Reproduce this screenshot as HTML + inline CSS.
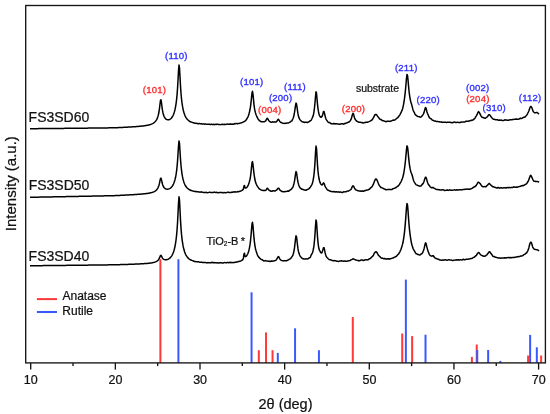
<!DOCTYPE html>
<html><head><meta charset="utf-8"><style>
html,body{margin:0;padding:0;background:#fff;overflow:hidden;}
svg{display:block;}
text{font-family:"Liberation Sans",Arial,sans-serif;}
.k{fill:#111;stroke:#111;stroke-width:0.22px;}
</style></head><body>
<svg width="550" height="414" viewBox="0 0 550 414">
<rect width="550" height="414" fill="#fff"/>
<line x1="160.38" y1="259.2" x2="160.38" y2="362.9" stroke="#ff3838" stroke-width="2"/>
<line x1="258.83" y1="350.2" x2="258.83" y2="362.9" stroke="#ff3838" stroke-width="2"/>
<line x1="266.03" y1="332.4" x2="266.03" y2="362.9" stroke="#ff3838" stroke-width="2"/>
<line x1="272.55" y1="350.2" x2="272.55" y2="362.9" stroke="#ff3838" stroke-width="2"/>
<line x1="352.79" y1="317.0" x2="352.79" y2="362.9" stroke="#ff3838" stroke-width="2"/>
<line x1="402.23" y1="333.5" x2="402.23" y2="362.9" stroke="#ff3838" stroke-width="2"/>
<line x1="412.13" y1="336.1" x2="412.13" y2="362.9" stroke="#ff3838" stroke-width="2"/>
<line x1="471.90" y1="356.9" x2="471.90" y2="362.9" stroke="#ff3838" stroke-width="2"/>
<line x1="476.72" y1="344.5" x2="476.72" y2="362.9" stroke="#ff3838" stroke-width="2"/>
<line x1="528.10" y1="355.5" x2="528.10" y2="362.9" stroke="#ff3838" stroke-width="2"/>
<line x1="541.14" y1="355.5" x2="541.14" y2="362.9" stroke="#ff3838" stroke-width="2"/>
<line x1="178.41" y1="259.2" x2="178.41" y2="362.9" stroke="#3a58ff" stroke-width="2"/>
<line x1="251.55" y1="292.3" x2="251.55" y2="362.9" stroke="#3a58ff" stroke-width="2"/>
<line x1="277.79" y1="352.9" x2="277.79" y2="362.9" stroke="#3a58ff" stroke-width="2"/>
<line x1="295.06" y1="328.3" x2="295.06" y2="362.9" stroke="#3a58ff" stroke-width="2"/>
<line x1="318.93" y1="350.2" x2="318.93" y2="362.9" stroke="#3a58ff" stroke-width="2"/>
<line x1="405.87" y1="279.6" x2="405.87" y2="362.9" stroke="#3a58ff" stroke-width="2"/>
<line x1="425.51" y1="334.7" x2="425.51" y2="362.9" stroke="#3a58ff" stroke-width="2"/>
<line x1="477.23" y1="350.0" x2="477.23" y2="362.9" stroke="#3a58ff" stroke-width="2"/>
<line x1="488.15" y1="350.0" x2="488.15" y2="362.9" stroke="#3a58ff" stroke-width="2"/>
<line x1="500.34" y1="360.9" x2="500.34" y2="362.9" stroke="#3a58ff" stroke-width="2"/>
<line x1="530.13" y1="334.9" x2="530.13" y2="362.9" stroke="#3a58ff" stroke-width="2"/>
<line x1="536.82" y1="347.3" x2="536.82" y2="362.9" stroke="#3a58ff" stroke-width="2"/>
<path d="M30.0,128.70 L30.5,128.70 L31.0,128.69 L31.5,128.69 L32.0,128.68 L32.5,128.68 L33.0,128.68 L33.5,128.67 L34.0,128.67 L34.5,128.66 L35.0,128.66 L35.5,128.65 L36.0,128.65 L36.5,128.64 L37.0,128.64 L37.5,128.63 L38.0,128.63 L38.5,128.62 L39.0,128.62 L39.5,128.61 L40.0,128.61 L40.5,128.60 L41.0,128.60 L41.5,128.59 L42.0,128.59 L42.5,128.59 L43.0,128.58 L43.5,128.58 L44.0,128.57 L44.5,128.57 L45.0,128.56 L45.5,128.56 L46.0,128.55 L46.5,128.55 L47.0,128.54 L47.5,128.54 L48.0,128.53 L48.5,128.53 L49.0,128.52 L49.5,128.52 L50.0,128.51 L50.5,128.51 L51.0,128.50 L51.5,128.50 L52.0,128.49 L52.5,128.49 L53.0,128.48 L53.5,128.48 L54.0,128.48 L54.5,128.47 L55.0,128.47 L55.5,128.46 L56.0,128.46 L56.5,128.45 L57.0,128.45 L57.5,128.44 L58.0,128.44 L58.5,128.43 L59.0,128.43 L59.5,128.42 L60.0,128.42 L60.5,128.41 L61.0,128.41 L61.5,128.40 L62.0,128.40 L62.5,128.39 L63.0,128.39 L63.5,128.38 L64.0,128.38 L64.5,128.37 L65.0,128.37 L65.5,128.36 L66.0,128.36 L66.5,128.35 L67.0,128.35 L67.5,128.34 L68.0,128.34 L68.5,128.33 L69.0,128.33 L69.5,128.32 L70.0,128.32 L70.5,128.31 L71.0,128.31 L71.5,128.30 L72.0,128.30 L72.5,128.29 L73.0,128.29 L73.5,128.28 L74.0,128.28 L74.5,128.27 L75.0,128.26 L75.5,128.26 L76.0,128.25 L76.5,128.25 L77.0,128.24 L77.5,128.24 L78.0,128.23 L78.5,128.23 L79.0,128.22 L79.5,128.22 L80.0,128.21 L80.5,128.21 L81.0,128.20 L81.5,128.20 L82.0,128.19 L82.5,128.19 L83.0,128.18 L83.5,128.17 L84.0,128.17 L84.5,128.16 L85.0,128.16 L85.5,128.15 L86.0,128.15 L86.5,128.14 L87.0,128.14 L87.5,128.13 L88.0,128.12 L88.5,128.12 L89.0,128.11 L89.5,128.11 L90.0,128.10 L90.5,128.10 L91.0,128.09 L91.5,128.09 L92.0,128.08 L92.5,128.07 L93.0,128.07 L93.5,128.06 L94.0,128.06 L94.5,128.05 L95.0,128.04 L95.5,128.04 L96.0,128.03 L96.5,128.03 L97.0,128.02 L97.5,128.01 L98.0,128.01 L98.5,128.00 L99.0,128.00 L99.5,127.99 L100.0,127.98 L100.5,127.98 L101.0,127.97 L101.5,127.96 L102.0,127.96 L102.5,127.95 L103.0,127.94 L103.5,127.94 L104.0,127.93 L104.5,127.92 L105.0,127.92 L105.5,127.91 L106.0,127.90 L106.5,127.90 L107.0,127.89 L107.5,127.88 L108.0,127.88 L108.5,127.87 L109.0,127.86 L109.5,127.86 L110.0,127.85 L110.5,127.84 L111.0,127.83 L111.5,127.83 L112.0,127.82 L112.5,127.81 L113.0,127.80 L113.5,127.79 L114.0,127.79 L114.5,127.78 L115.0,127.77 L115.5,127.76 L116.0,127.73 L116.5,127.71 L117.0,127.68 L117.5,127.66 L118.0,127.64 L118.5,127.61 L119.0,127.59 L119.5,127.56 L120.0,127.54 L120.5,127.51 L121.0,127.49 L121.5,127.46 L122.0,127.43 L122.5,127.41 L123.0,127.38 L123.5,127.36 L124.0,127.33 L124.5,127.30 L125.0,127.28 L125.5,127.25 L126.0,127.22 L126.5,127.19 L127.0,127.17 L127.5,127.14 L128.0,127.11 L128.5,127.08 L129.0,127.05 L129.5,127.02 L130.0,126.99 L130.5,126.96 L131.0,126.93 L131.5,126.90 L132.0,126.87 L132.5,126.84 L133.0,126.80 L133.5,126.77 L134.0,126.74 L134.5,126.70 L135.0,126.67 L135.5,126.63 L136.0,126.59 L136.5,126.55 L137.0,126.52 L137.5,126.48 L138.0,126.44 L138.5,126.39 L139.0,126.35 L139.5,126.31 L140.0,126.26 L140.5,126.21 L141.0,126.16 L141.5,126.11 L142.0,126.06 L142.5,126.00 L143.0,125.95 L143.5,125.89 L144.0,125.82 L144.5,125.76 L145.0,125.69 L145.5,125.61 L146.0,125.53 L146.5,125.45 L147.0,125.36 L147.5,125.26 L148.0,125.16 L148.5,125.05 L149.0,124.93 L149.5,124.80 L150.0,124.65 L150.5,124.50 L151.0,124.32 L151.5,124.13 L152.0,123.91 L152.5,123.67 L153.0,123.39 L153.5,123.08 L154.0,122.72 L154.5,122.31 L155.0,121.83 L155.5,121.27 L156.0,120.60 L156.5,119.81 L157.0,118.84 L157.5,117.66 L158.0,116.18 L158.5,114.27 L159.0,111.74 L159.5,108.34 L160.0,104.12 L160.5,100.35 L161.0,99.78 L161.5,102.89 L162.0,107.02 L162.5,110.46 L163.0,112.99 L163.5,114.83 L164.0,116.20 L164.5,117.24 L165.0,118.03 L165.5,118.64 L166.0,119.09 L166.5,119.41 L167.0,119.64 L167.5,119.77 L168.0,119.81 L168.5,119.78 L169.0,119.67 L169.5,119.49 L170.0,119.23 L170.5,118.89 L171.0,118.46 L171.5,117.93 L172.0,117.28 L172.5,116.50 L173.0,115.56 L173.5,114.44 L174.0,113.08 L174.5,111.45 L175.0,109.47 L175.5,107.05 L176.0,104.04 L176.5,100.25 L177.0,95.35 L177.5,88.85 L178.0,80.37 L178.5,70.86 L179.0,64.99 L179.5,67.95 L180.0,76.90 L180.5,86.04 L181.0,93.27 L181.5,98.72 L182.0,102.91 L182.5,106.20 L183.0,108.85 L183.5,111.02 L184.0,112.81 L184.5,114.31 L185.0,115.57 L185.5,116.64 L186.0,117.54 L186.5,118.30 L187.0,118.97 L187.5,119.54 L188.0,120.03 L188.5,120.45 L189.0,120.85 L189.5,121.23 L190.0,121.52 L190.5,121.72 L191.0,121.94 L191.5,122.16 L192.0,122.34 L192.5,122.46 L193.0,122.61 L193.5,122.78 L194.0,122.95 L194.5,123.15 L195.0,123.28 L195.5,123.31 L196.0,123.31 L196.5,123.33 L197.0,123.46 L197.5,123.57 L198.0,123.70 L198.5,123.70 L199.0,123.53 L199.5,123.55 L200.0,123.67 L200.5,123.72 L201.0,123.68 L201.5,123.75 L202.0,123.95 L202.5,124.05 L203.0,123.98 L203.5,123.87 L204.0,123.97 L204.5,124.16 L205.0,124.04 L205.5,123.93 L206.0,124.18 L206.5,124.36 L207.0,124.33 L207.5,124.28 L208.0,124.24 L208.5,124.19 L209.0,124.23 L209.5,124.29 L210.0,124.42 L210.5,124.44 L211.0,124.27 L211.5,124.26 L212.0,124.42 L212.5,124.57 L213.0,124.45 L213.5,124.26 L214.0,124.39 L214.5,124.67 L215.0,124.62 L215.5,124.24 L216.0,124.28 L216.5,124.44 L217.0,124.19 L217.5,124.15 L218.0,124.46 L218.5,124.53 L219.0,124.41 L219.5,124.43 L220.0,124.56 L220.5,124.63 L221.0,124.58 L221.5,124.47 L222.0,124.31 L222.5,124.28 L223.0,124.43 L223.5,124.57 L224.0,124.48 L224.5,124.34 L225.0,124.45 L225.5,124.49 L226.0,124.35 L226.5,124.25 L227.0,124.13 L227.5,124.04 L228.0,124.20 L228.5,124.25 L229.0,124.19 L229.5,124.17 L230.0,124.01 L230.5,123.96 L231.0,124.20 L231.5,124.28 L232.0,124.06 L232.5,124.11 L233.0,124.26 L233.5,124.23 L234.0,124.11 L234.5,123.70 L235.0,123.53 L235.5,123.70 L236.0,123.64 L236.5,123.50 L237.0,123.55 L237.5,123.73 L238.0,123.68 L238.5,123.46 L239.0,123.44 L239.5,123.32 L240.0,123.13 L240.5,122.99 L241.0,122.89 L241.5,122.81 L242.0,122.60 L242.5,122.38 L243.0,122.19 L243.5,121.87 L244.0,121.60 L244.5,121.44 L245.0,121.08 L245.5,120.59 L246.0,120.14 L246.5,119.44 L247.0,118.52 L247.5,117.67 L248.0,116.77 L248.5,115.47 L249.0,113.76 L249.5,111.84 L250.0,109.52 L250.5,106.55 L251.0,102.71 L251.5,97.76 L252.0,92.90 L252.5,91.29 L253.0,94.33 L253.5,99.57 L254.0,104.56 L254.5,108.40 L255.0,111.01 L255.5,112.90 L256.0,114.51 L256.5,115.80 L257.0,116.87 L257.5,117.89 L258.0,118.88 L258.5,119.66 L259.0,120.15 L259.5,120.69 L260.0,121.10 L260.5,121.30 L261.0,121.60 L261.5,121.70 L262.0,121.67 L262.5,121.78 L263.0,121.83 L263.5,121.79 L264.0,121.75 L264.5,121.70 L265.0,121.44 L265.5,120.94 L266.0,120.24 L266.5,119.31 L267.0,118.48 L267.5,118.34 L268.0,119.11 L268.5,120.17 L269.0,120.94 L269.5,121.33 L270.0,121.67 L270.5,122.02 L271.0,122.14 L271.5,122.19 L272.0,122.13 L272.5,121.84 L273.0,121.84 L273.5,122.01 L274.0,121.97 L274.5,121.87 L275.0,121.90 L275.5,122.07 L276.0,122.06 L276.5,121.65 L277.0,120.98 L277.5,120.25 L278.0,119.51 L278.5,119.32 L279.0,120.09 L279.5,120.95 L280.0,121.67 L280.5,122.33 L281.0,122.44 L281.5,122.46 L282.0,122.83 L282.5,123.15 L283.0,123.24 L283.5,123.39 L284.0,123.51 L284.5,123.36 L285.0,123.15 L285.5,123.28 L286.0,123.41 L286.5,123.11 L287.0,122.93 L287.5,123.03 L288.0,123.05 L288.5,122.92 L289.0,122.63 L289.5,122.32 L290.0,122.18 L290.5,121.78 L291.0,121.26 L291.5,121.13 L292.0,120.63 L292.5,119.51 L293.0,118.51 L293.5,117.24 L294.0,115.09 L294.5,112.40 L295.0,109.23 L295.5,105.60 L296.0,103.09 L296.5,103.86 L297.0,107.09 L297.5,110.67 L298.0,113.89 L298.5,116.33 L299.0,117.88 L299.5,118.88 L300.0,119.67 L300.5,120.28 L301.0,120.72 L301.5,121.20 L302.0,121.63 L302.5,121.97 L303.0,122.05 L303.5,122.02 L304.0,122.29 L304.5,122.45 L305.0,122.28 L305.5,122.19 L306.0,122.14 L306.5,122.16 L307.0,122.43 L307.5,122.52 L308.0,122.29 L308.5,121.96 L309.0,121.67 L309.5,121.33 L310.0,120.98 L310.5,120.72 L311.0,120.32 L311.5,119.53 L312.0,118.50 L312.5,117.39 L313.0,116.14 L313.5,114.42 L314.0,111.58 L314.5,107.64 L315.0,102.73 L315.5,96.56 L316.0,91.77 L316.5,93.08 L317.0,98.78 L317.5,104.35 L318.0,108.59 L318.5,111.73 L319.0,113.99 L319.5,115.54 L320.0,116.48 L320.5,117.00 L321.0,117.24 L321.5,117.00 L322.0,116.41 L322.5,115.38 L323.0,113.40 L323.5,111.40 L324.0,111.43 L324.5,113.33 L325.0,115.49 L325.5,117.55 L326.0,119.03 L326.5,119.85 L327.0,120.56 L327.5,121.25 L328.0,121.89 L328.5,122.43 L329.0,122.58 L329.5,122.50 L330.0,122.78 L330.5,123.32 L331.0,123.64 L331.5,123.62 L332.0,123.71 L332.5,123.88 L333.0,123.76 L333.5,123.56 L334.0,123.49 L334.5,123.78 L335.0,124.02 L335.5,123.82 L336.0,123.68 L336.5,123.71 L337.0,123.90 L337.5,124.06 L338.0,124.02 L338.5,124.08 L339.0,124.13 L339.5,124.17 L340.0,124.26 L340.5,124.11 L341.0,123.83 L341.5,123.65 L342.0,123.66 L342.5,123.74 L343.0,123.91 L343.5,124.18 L344.0,124.06 L344.5,123.60 L345.0,123.50 L345.5,123.42 L346.0,123.03 L346.5,122.95 L347.0,122.97 L347.5,122.63 L348.0,122.34 L348.5,122.20 L349.0,121.98 L349.5,121.57 L350.0,121.05 L350.5,120.35 L351.0,119.41 L351.5,118.12 L352.0,116.24 L352.5,114.29 L353.0,113.30 L353.5,113.98 L354.0,115.84 L354.5,117.73 L355.0,118.97 L355.5,119.71 L356.0,120.33 L356.5,120.91 L357.0,121.36 L357.5,121.58 L358.0,121.75 L358.5,122.13 L359.0,122.34 L359.5,122.23 L360.0,122.23 L360.5,122.34 L361.0,122.52 L361.5,122.48 L362.0,122.39 L362.5,122.75 L363.0,123.04 L363.5,122.97 L364.0,122.87 L364.5,122.57 L365.0,122.31 L365.5,122.41 L366.0,122.32 L366.5,122.17 L367.0,122.29 L367.5,122.20 L368.0,122.00 L368.5,121.86 L369.0,121.64 L369.5,121.40 L370.0,121.14 L370.5,120.84 L371.0,120.56 L371.5,120.34 L372.0,119.97 L372.5,119.33 L373.0,118.44 L373.5,117.64 L374.0,116.72 L374.5,115.47 L375.0,114.74 L375.5,114.53 L376.0,114.47 L376.5,114.71 L377.0,115.30 L377.5,116.09 L378.0,116.79 L378.5,117.36 L379.0,118.03 L379.5,118.74 L380.0,119.28 L380.5,119.43 L381.0,119.42 L381.5,119.80 L382.0,120.41 L382.5,120.75 L383.0,120.81 L383.5,120.71 L384.0,120.89 L384.5,121.27 L385.0,121.39 L385.5,121.60 L386.0,121.72 L386.5,121.47 L387.0,121.30 L387.5,121.23 L388.0,121.17 L388.5,121.23 L389.0,121.29 L389.5,121.32 L390.0,121.41 L390.5,121.32 L391.0,121.07 L391.5,120.87 L392.0,120.57 L392.5,120.30 L393.0,120.15 L393.5,120.09 L394.0,120.16 L394.5,120.10 L395.0,119.81 L395.5,119.39 L396.0,118.97 L396.5,118.49 L397.0,118.08 L397.5,117.84 L398.0,117.35 L398.5,116.72 L399.0,116.09 L399.5,115.30 L400.0,114.54 L400.5,113.71 L401.0,112.63 L401.5,111.53 L402.0,110.40 L402.5,108.96 L403.0,107.08 L403.5,104.64 L404.0,101.75 L404.5,98.45 L405.0,94.45 L405.5,89.67 L406.0,83.96 L406.5,78.05 L407.0,74.42 L407.5,75.31 L408.0,79.82 L408.5,85.45 L409.0,90.76 L409.5,94.99 L410.0,98.07 L410.5,100.49 L411.0,102.44 L411.5,104.06 L412.0,105.84 L412.5,107.82 L413.0,109.64 L413.5,111.10 L414.0,112.00 L414.5,112.93 L415.0,114.15 L415.5,114.94 L416.0,115.23 L416.5,115.59 L417.0,116.01 L417.5,116.29 L418.0,116.47 L418.5,116.62 L419.0,116.74 L419.5,116.78 L420.0,117.02 L420.5,117.19 L421.0,116.93 L421.5,116.56 L422.0,116.00 L422.5,115.25 L423.0,114.57 L423.5,113.80 L424.0,112.59 L424.5,110.80 L425.0,108.70 L425.5,107.44 L426.0,107.99 L426.5,109.94 L427.0,111.99 L427.5,113.44 L428.0,114.58 L428.5,115.81 L429.0,117.01 L429.5,117.71 L430.0,118.16 L430.5,118.52 L431.0,118.67 L431.5,119.16 L432.0,119.89 L432.5,120.26 L433.0,120.33 L433.5,120.46 L434.0,120.89 L434.5,121.13 L435.0,121.01 L435.5,121.07 L436.0,121.27 L436.5,121.43 L437.0,121.52 L437.5,121.50 L438.0,121.52 L438.5,121.62 L439.0,121.69 L439.5,121.78 L440.0,121.93 L440.5,122.00 L441.0,121.93 L441.5,122.02 L442.0,122.19 L442.5,122.13 L443.0,122.15 L443.5,122.30 L444.0,122.30 L444.5,122.27 L445.0,122.18 L445.5,122.12 L446.0,122.35 L446.5,122.57 L447.0,122.38 L447.5,122.15 L448.0,122.19 L448.5,122.21 L449.0,122.26 L449.5,122.28 L450.0,122.30 L450.5,122.48 L451.0,122.53 L451.5,122.55 L452.0,122.65 L452.5,122.73 L453.0,122.56 L453.5,122.27 L454.0,122.13 L454.5,122.02 L455.0,122.18 L455.5,122.48 L456.0,122.60 L456.5,122.52 L457.0,122.33 L457.5,122.27 L458.0,122.35 L458.5,122.51 L459.0,122.47 L459.5,122.48 L460.0,122.64 L460.5,122.32 L461.0,122.02 L461.5,122.11 L462.0,122.15 L462.5,122.00 L463.0,121.92 L463.5,122.00 L464.0,122.01 L464.5,122.06 L465.0,121.89 L465.5,121.44 L466.0,121.22 L466.5,121.26 L467.0,121.36 L467.5,121.36 L468.0,121.20 L468.5,121.05 L469.0,121.12 L469.5,121.04 L470.0,120.66 L470.5,120.51 L471.0,120.47 L471.5,120.26 L472.0,120.17 L472.5,120.18 L473.0,119.96 L473.5,119.42 L474.0,119.00 L474.5,118.74 L475.0,118.08 L475.5,117.17 L476.0,116.32 L476.5,115.55 L477.0,114.68 L477.5,113.43 L478.0,112.17 L478.5,111.65 L479.0,112.07 L479.5,112.84 L480.0,113.85 L480.5,114.99 L481.0,115.87 L481.5,116.70 L482.0,117.17 L482.5,117.26 L483.0,117.47 L483.5,117.69 L484.0,118.00 L484.5,118.13 L485.0,118.08 L485.5,118.13 L486.0,117.80 L486.5,117.31 L487.0,117.08 L487.5,116.59 L488.0,115.79 L488.5,115.05 L489.0,114.65 L489.5,114.81 L490.0,115.26 L490.5,115.94 L491.0,116.72 L491.5,117.24 L492.0,117.92 L492.5,118.62 L493.0,118.96 L493.5,119.23 L494.0,119.33 L494.5,119.34 L495.0,119.52 L495.5,119.70 L496.0,119.73 L496.5,119.72 L497.0,119.71 L497.5,119.78 L498.0,120.03 L498.5,120.26 L499.0,120.17 L499.5,120.03 L500.0,120.18 L500.5,120.16 L501.0,120.00 L501.5,120.18 L502.0,120.38 L502.5,120.40 L503.0,120.42 L503.5,120.45 L504.0,120.37 L504.5,120.06 L505.0,119.77 L505.5,119.87 L506.0,120.06 L506.5,120.08 L507.0,120.17 L507.5,120.19 L508.0,120.19 L508.5,120.17 L509.0,119.99 L509.5,119.92 L510.0,119.79 L510.5,119.71 L511.0,119.76 L511.5,119.75 L512.0,119.69 L512.5,119.54 L513.0,119.45 L513.5,119.41 L514.0,119.37 L514.5,119.28 L515.0,119.24 L515.5,119.25 L516.0,119.05 L516.5,119.02 L517.0,119.26 L517.5,119.31 L518.0,119.17 L518.5,119.15 L519.0,119.07 L519.5,118.62 L520.0,118.31 L520.5,118.33 L521.0,118.42 L521.5,118.40 L522.0,118.31 L522.5,118.09 L523.0,117.67 L523.5,117.27 L524.0,117.20 L524.5,117.31 L525.0,117.02 L525.5,116.44 L526.0,115.87 L526.5,115.31 L527.0,114.70 L527.5,113.79 L528.0,112.74 L528.5,111.77 L529.0,110.56 L529.5,109.02 L530.0,107.54 L530.5,106.52 L531.0,106.43 L531.5,107.11 L532.0,108.11 L532.5,109.62 L533.0,111.02 L533.5,111.67 L534.0,112.22 L534.5,112.66 L535.0,112.80 L535.5,112.83 L536.0,112.60 L536.5,112.41 L537.0,112.49 L537.5,112.78 L538.0,113.26 L538.5,113.77 L539.0,114.24" fill="none" stroke="#000" stroke-width="1.5" stroke-linejoin="round"/>
<path d="M30.0,197.28 L30.5,197.28 L31.0,197.28 L31.5,197.27 L32.0,197.26 L32.5,197.25 L33.0,197.24 L33.5,197.23 L34.0,197.22 L34.5,197.21 L35.0,197.20 L35.5,197.19 L36.0,197.19 L36.5,197.18 L37.0,197.17 L37.5,197.16 L38.0,197.15 L38.5,197.14 L39.0,197.13 L39.5,197.12 L40.0,197.11 L40.5,197.10 L41.0,197.09 L41.5,197.08 L42.0,197.07 L42.5,197.06 L43.0,197.06 L43.5,197.05 L44.0,197.04 L44.5,197.03 L45.0,197.02 L45.5,197.01 L46.0,197.00 L46.5,196.99 L47.0,196.98 L47.5,196.97 L48.0,196.96 L48.5,196.95 L49.0,196.94 L49.5,196.93 L50.0,196.92 L50.5,196.92 L51.0,196.91 L51.5,196.90 L52.0,196.89 L52.5,196.88 L53.0,196.87 L53.5,196.86 L54.0,196.85 L54.5,196.84 L55.0,196.83 L55.5,196.82 L56.0,196.81 L56.5,196.80 L57.0,196.79 L57.5,196.78 L58.0,196.77 L58.5,196.77 L59.0,196.76 L59.5,196.75 L60.0,196.74 L60.5,196.73 L61.0,196.72 L61.5,196.71 L62.0,196.70 L62.5,196.69 L63.0,196.68 L63.5,196.67 L64.0,196.66 L64.5,196.65 L65.0,196.64 L65.5,196.63 L66.0,196.62 L66.5,196.61 L67.0,196.60 L67.5,196.59 L68.0,196.59 L68.5,196.58 L69.0,196.57 L69.5,196.56 L70.0,196.55 L70.5,196.54 L71.0,196.53 L71.5,196.52 L72.0,196.51 L72.5,196.50 L73.0,196.49 L73.5,196.48 L74.0,196.47 L74.5,196.46 L75.0,196.45 L75.5,196.44 L76.0,196.43 L76.5,196.42 L77.0,196.41 L77.5,196.40 L78.0,196.39 L78.5,196.38 L79.0,196.37 L79.5,196.36 L80.0,196.35 L80.5,196.34 L81.0,196.33 L81.5,196.32 L82.0,196.32 L82.5,196.31 L83.0,196.30 L83.5,196.29 L84.0,196.28 L84.5,196.27 L85.0,196.26 L85.5,196.25 L86.0,196.24 L86.5,196.23 L87.0,196.22 L87.5,196.21 L88.0,196.20 L88.5,196.19 L89.0,196.18 L89.5,196.17 L90.0,196.16 L90.5,196.15 L91.0,196.14 L91.5,196.13 L92.0,196.12 L92.5,196.11 L93.0,196.10 L93.5,196.09 L94.0,196.08 L94.5,196.07 L95.0,196.06 L95.5,196.05 L96.0,196.04 L96.5,196.03 L97.0,196.01 L97.5,196.00 L98.0,195.99 L98.5,195.98 L99.0,195.97 L99.5,195.96 L100.0,195.95 L100.5,195.94 L101.0,195.93 L101.5,195.92 L102.0,195.91 L102.5,195.90 L103.0,195.89 L103.5,195.88 L104.0,195.87 L104.5,195.86 L105.0,195.85 L105.5,195.84 L106.0,195.83 L106.5,195.81 L107.0,195.80 L107.5,195.79 L108.0,195.78 L108.5,195.77 L109.0,195.76 L109.5,195.75 L110.0,195.74 L110.5,195.73 L111.0,195.71 L111.5,195.70 L112.0,195.69 L112.5,195.68 L113.0,195.67 L113.5,195.66 L114.0,195.65 L114.5,195.63 L115.0,195.62 L115.5,195.61 L116.0,195.58 L116.5,195.56 L117.0,195.53 L117.5,195.51 L118.0,195.48 L118.5,195.46 L119.0,195.43 L119.5,195.40 L120.0,195.38 L120.5,195.35 L121.0,195.33 L121.5,195.30 L122.0,195.28 L122.5,195.25 L123.0,195.22 L123.5,195.20 L124.0,195.17 L124.5,195.14 L125.0,195.12 L125.5,195.09 L126.0,195.06 L126.5,195.03 L127.0,195.01 L127.5,194.98 L128.0,194.95 L128.5,194.92 L129.0,194.89 L129.5,194.87 L130.0,194.84 L130.5,194.81 L131.0,194.78 L131.5,194.75 L132.0,194.72 L132.5,194.69 L133.0,194.66 L133.5,194.63 L134.0,194.59 L134.5,194.56 L135.0,194.53 L135.5,194.50 L136.0,194.46 L136.5,194.43 L137.0,194.39 L137.5,194.36 L138.0,194.32 L138.5,194.29 L139.0,194.25 L139.5,194.21 L140.0,194.17 L140.5,194.13 L141.0,194.09 L141.5,194.05 L142.0,194.00 L142.5,193.96 L143.0,193.91 L143.5,193.86 L144.0,193.81 L144.5,193.76 L145.0,193.71 L145.5,193.65 L146.0,193.59 L146.5,193.53 L147.0,193.46 L147.5,193.39 L148.0,193.32 L148.5,193.24 L149.0,193.15 L149.5,193.06 L150.0,192.96 L150.5,192.85 L151.0,192.74 L151.5,192.61 L152.0,192.46 L152.5,192.31 L153.0,192.13 L153.5,191.93 L154.0,191.71 L154.5,191.45 L155.0,191.15 L155.5,190.80 L156.0,190.40 L156.5,189.92 L157.0,189.34 L157.5,188.63 L158.0,187.75 L158.5,186.63 L159.0,185.15 L159.5,183.16 L160.0,180.70 L160.5,178.50 L161.0,178.15 L161.5,179.92 L162.0,182.29 L162.5,184.25 L163.0,185.69 L163.5,186.72 L164.0,187.48 L164.5,188.04 L165.0,188.46 L165.5,188.76 L166.0,188.98 L166.5,189.11 L167.0,189.18 L167.5,189.18 L168.0,189.13 L168.5,189.03 L169.0,188.87 L169.5,188.65 L170.0,188.38 L170.5,188.04 L171.0,187.63 L171.5,187.13 L172.0,186.54 L172.5,185.84 L173.0,185.00 L173.5,184.00 L174.0,182.81 L174.5,181.37 L175.0,179.63 L175.5,177.52 L176.0,174.89 L176.5,171.59 L177.0,167.31 L177.5,161.66 L178.0,154.27 L178.5,146.00 L179.0,140.90 L179.5,143.46 L180.0,151.24 L180.5,159.19 L181.0,165.47 L181.5,170.21 L182.0,173.84 L182.5,176.70 L183.0,179.00 L183.5,180.89 L184.0,182.45 L184.5,183.75 L185.0,184.85 L185.5,185.77 L186.0,186.56 L186.5,187.24 L187.0,187.80 L187.5,188.28 L188.0,188.69 L188.5,189.07 L189.0,189.48 L189.5,189.81 L190.0,189.99 L190.5,190.22 L191.0,190.44 L191.5,190.59 L192.0,190.74 L192.5,190.91 L193.0,191.08 L193.5,191.18 L194.0,191.29 L194.5,191.41 L195.0,191.39 L195.5,191.36 L196.0,191.52 L196.5,191.71 L197.0,191.77 L197.5,191.75 L198.0,191.75 L198.5,191.87 L199.0,192.00 L199.5,192.10 L200.0,192.19 L200.5,192.05 L201.0,191.83 L201.5,191.91 L202.0,192.18 L202.5,192.30 L203.0,192.36 L203.5,192.47 L204.0,192.60 L204.5,192.55 L205.0,192.35 L205.5,192.41 L206.0,192.43 L206.5,192.36 L207.0,192.59 L207.5,192.75 L208.0,192.63 L208.5,192.49 L209.0,192.38 L209.5,192.30 L210.0,192.34 L210.5,192.39 L211.0,192.41 L211.5,192.44 L212.0,192.59 L212.5,192.60 L213.0,192.47 L213.5,192.41 L214.0,192.13 L214.5,192.05 L215.0,192.36 L215.5,192.57 L216.0,192.49 L216.5,192.33 L217.0,192.43 L217.5,192.66 L218.0,192.74 L218.5,192.67 L219.0,192.55 L219.5,192.43 L220.0,192.42 L220.5,192.52 L221.0,192.55 L221.5,192.39 L222.0,192.39 L222.5,192.70 L223.0,192.88 L223.5,192.75 L224.0,192.57 L224.5,192.57 L225.0,192.69 L225.5,192.80 L226.0,192.82 L226.5,192.59 L227.0,192.31 L227.5,192.23 L228.0,192.16 L228.5,192.27 L229.0,192.58 L229.5,192.53 L230.0,192.39 L230.5,192.56 L231.0,192.44 L231.5,192.22 L232.0,192.28 L232.5,192.23 L233.0,191.97 L233.5,191.86 L234.0,192.05 L234.5,191.99 L235.0,191.77 L235.5,191.98 L236.0,192.09 L236.5,191.92 L237.0,191.84 L237.5,191.72 L238.0,191.56 L238.5,191.64 L239.0,191.63 L239.5,191.36 L240.0,191.28 L240.5,191.20 L241.0,190.92 L241.5,190.63 L242.0,190.30 L242.5,190.04 L243.0,189.70 L243.5,188.61 L244.0,185.92 L244.5,185.55 L245.0,187.72 L245.5,188.10 L246.0,187.97 L246.5,187.65 L247.0,187.19 L247.5,186.46 L248.0,185.68 L248.5,184.52 L249.0,182.97 L249.5,181.28 L250.0,179.24 L250.5,176.52 L251.0,172.47 L251.5,167.40 L252.0,162.87 L252.5,161.62 L253.0,164.66 L253.5,169.40 L254.0,173.75 L254.5,177.24 L255.0,180.05 L255.5,182.08 L256.0,183.38 L256.5,184.55 L257.0,185.57 L257.5,186.33 L258.0,187.06 L258.5,187.85 L259.0,188.56 L259.5,188.94 L260.0,189.27 L260.5,189.69 L261.0,189.94 L261.5,190.09 L262.0,190.22 L262.5,190.32 L263.0,190.53 L263.5,190.60 L264.0,190.40 L264.5,190.36 L265.0,190.48 L265.5,190.46 L266.0,190.13 L266.5,189.32 L267.0,188.52 L267.5,188.31 L268.0,188.92 L268.5,189.68 L269.0,190.10 L269.5,190.48 L270.0,190.81 L270.5,191.00 L271.0,191.18 L271.5,191.28 L272.0,191.21 L272.5,191.02 L273.0,190.82 L273.5,190.73 L274.0,190.79 L274.5,190.94 L275.0,191.00 L275.5,190.73 L276.0,190.42 L276.5,190.17 L277.0,189.57 L277.5,188.82 L278.0,188.36 L278.5,188.23 L279.0,188.51 L279.5,189.31 L280.0,190.17 L280.5,190.58 L281.0,190.80 L281.5,191.17 L282.0,191.51 L282.5,191.58 L283.0,191.70 L283.5,191.76 L284.0,191.68 L284.5,191.66 L285.0,191.56 L285.5,191.40 L286.0,191.41 L286.5,191.50 L287.0,191.36 L287.5,191.09 L288.0,191.07 L288.5,191.23 L289.0,191.03 L289.5,190.54 L290.0,190.05 L290.5,189.69 L291.0,189.49 L291.5,189.00 L292.0,188.33 L292.5,187.79 L293.0,186.81 L293.5,185.25 L294.0,183.44 L294.5,181.13 L295.0,177.98 L295.5,174.14 L296.0,171.53 L296.5,172.39 L297.0,175.74 L297.5,179.40 L298.0,182.24 L298.5,184.16 L299.0,185.68 L299.5,186.91 L300.0,187.71 L300.5,188.19 L301.0,188.60 L301.5,189.00 L302.0,189.25 L302.5,189.35 L303.0,189.48 L303.5,189.74 L304.0,189.85 L304.5,189.92 L305.0,190.07 L305.5,190.25 L306.0,190.33 L306.5,189.98 L307.0,189.59 L307.5,189.47 L308.0,189.32 L308.5,189.05 L309.0,188.62 L309.5,188.13 L310.0,187.64 L310.5,186.92 L311.0,186.04 L311.5,185.22 L312.0,184.29 L312.5,182.88 L313.0,180.75 L313.5,178.04 L314.0,174.51 L314.5,169.43 L315.0,162.11 L315.5,152.80 L316.0,146.04 L316.5,148.31 L317.0,156.87 L317.5,165.17 L318.0,171.25 L318.5,175.46 L319.0,178.52 L319.5,180.76 L320.0,182.37 L320.5,183.53 L321.0,184.31 L321.5,184.81 L322.0,184.95 L322.5,184.55 L323.0,183.58 L323.5,182.77 L324.0,183.20 L324.5,184.60 L325.0,186.02 L325.5,187.17 L326.0,187.89 L326.5,188.53 L327.0,189.39 L327.5,189.98 L328.0,190.09 L328.5,190.40 L329.0,190.75 L329.5,190.80 L330.0,191.07 L330.5,191.33 L331.0,191.36 L331.5,191.66 L332.0,191.87 L332.5,191.63 L333.0,191.55 L333.5,191.65 L334.0,191.59 L334.5,191.73 L335.0,192.05 L335.5,191.96 L336.0,191.67 L336.5,191.78 L337.0,192.05 L337.5,192.01 L338.0,191.85 L338.5,191.95 L339.0,192.12 L339.5,192.17 L340.0,192.01 L340.5,191.95 L341.0,192.20 L341.5,192.34 L342.0,192.52 L342.5,192.55 L343.0,192.07 L343.5,191.81 L344.0,191.93 L344.5,191.87 L345.0,191.65 L345.5,191.69 L346.0,191.82 L346.5,191.55 L347.0,191.22 L347.5,191.11 L348.0,191.03 L348.5,190.96 L349.0,190.71 L349.5,190.43 L350.0,190.19 L350.5,189.78 L351.0,189.33 L351.5,188.58 L352.0,187.33 L352.5,186.16 L353.0,185.75 L353.5,186.21 L354.0,187.13 L354.5,188.09 L355.0,188.92 L355.5,189.57 L356.0,189.98 L356.5,190.14 L357.0,190.35 L357.5,190.57 L358.0,190.70 L358.5,190.90 L359.0,191.05 L359.5,191.00 L360.0,190.89 L360.5,191.03 L361.0,191.33 L361.5,191.23 L362.0,190.86 L362.5,190.92 L363.0,191.28 L363.5,191.27 L364.0,191.04 L364.5,190.81 L365.0,190.51 L365.5,190.49 L366.0,190.39 L366.5,190.00 L367.0,189.93 L367.5,190.09 L368.0,189.93 L368.5,189.54 L369.0,189.38 L369.5,189.19 L370.0,188.57 L370.5,187.97 L371.0,187.59 L371.5,187.20 L372.0,186.68 L372.5,185.78 L373.0,184.85 L373.5,183.93 L374.0,182.56 L374.5,181.18 L375.0,180.06 L375.5,179.19 L376.0,178.90 L376.5,179.32 L377.0,180.14 L377.5,181.22 L378.0,182.56 L378.5,183.80 L379.0,184.82 L379.5,185.64 L380.0,186.38 L380.5,187.20 L381.0,187.57 L381.5,187.58 L382.0,187.91 L382.5,188.10 L383.0,188.22 L383.5,188.65 L384.0,188.90 L384.5,188.98 L385.0,189.20 L385.5,189.54 L386.0,189.70 L386.5,189.65 L387.0,189.62 L387.5,189.57 L388.0,189.50 L388.5,189.44 L389.0,189.41 L389.5,189.41 L390.0,189.51 L390.5,189.56 L391.0,189.51 L391.5,189.64 L392.0,189.47 L392.5,188.90 L393.0,188.69 L393.5,188.62 L394.0,188.35 L394.5,188.14 L395.0,188.04 L395.5,187.83 L396.0,187.50 L396.5,187.20 L397.0,186.70 L397.5,186.28 L398.0,186.12 L398.5,185.62 L399.0,184.95 L399.5,184.38 L400.0,183.48 L400.5,182.58 L401.0,181.78 L401.5,180.63 L402.0,179.40 L402.5,178.17 L403.0,176.61 L403.5,174.52 L404.0,171.77 L404.5,168.50 L405.0,164.77 L405.5,160.34 L406.0,154.93 L406.5,149.27 L407.0,145.88 L407.5,146.76 L408.0,150.92 L408.5,156.18 L409.0,161.12 L409.5,165.12 L410.0,168.13 L410.5,170.46 L411.0,172.25 L411.5,173.54 L412.0,174.75 L412.5,176.48 L413.0,178.43 L413.5,180.14 L414.0,181.52 L414.5,182.36 L415.0,183.09 L415.5,183.95 L416.0,184.51 L416.5,184.84 L417.0,185.11 L417.5,185.23 L418.0,185.53 L418.5,185.83 L419.0,185.87 L419.5,186.04 L420.0,186.15 L420.5,186.05 L421.0,185.87 L421.5,185.36 L422.0,184.63 L422.5,184.11 L423.0,183.66 L423.5,182.82 L424.0,181.40 L424.5,179.73 L425.0,178.21 L425.5,177.15 L426.0,177.16 L426.5,178.65 L427.0,180.61 L427.5,182.17 L428.0,183.57 L428.5,184.55 L429.0,185.19 L429.5,185.85 L430.0,186.43 L430.5,186.96 L431.0,187.45 L431.5,187.73 L432.0,187.69 L432.5,187.55 L433.0,187.50 L433.5,187.81 L434.0,188.17 L434.5,188.36 L435.0,188.71 L435.5,188.99 L436.0,189.18 L436.5,189.44 L437.0,189.61 L437.5,189.61 L438.0,189.60 L438.5,189.71 L439.0,189.77 L439.5,189.80 L440.0,189.94 L440.5,190.06 L441.0,190.03 L441.5,189.90 L442.0,189.80 L442.5,189.76 L443.0,189.80 L443.5,189.95 L444.0,190.08 L444.5,190.43 L445.0,190.61 L445.5,190.37 L446.0,190.31 L446.5,190.23 L447.0,190.00 L447.5,190.00 L448.0,190.25 L448.5,190.40 L449.0,190.16 L449.5,189.84 L450.0,189.83 L450.5,190.10 L451.0,190.31 L451.5,190.26 L452.0,190.25 L452.5,190.27 L453.0,190.12 L453.5,190.01 L454.0,189.88 L454.5,189.78 L455.0,189.98 L455.5,190.16 L456.0,190.06 L456.5,189.79 L457.0,189.79 L457.5,190.01 L458.0,190.11 L458.5,190.03 L459.0,189.82 L459.5,189.72 L460.0,189.72 L460.5,189.71 L461.0,189.71 L461.5,189.82 L462.0,189.91 L462.5,189.67 L463.0,189.44 L463.5,189.59 L464.0,189.57 L464.5,189.27 L465.0,189.21 L465.5,189.35 L466.0,189.37 L466.5,189.11 L467.0,188.94 L467.5,189.07 L468.0,189.29 L468.5,189.27 L469.0,189.09 L469.5,189.23 L470.0,189.19 L470.5,188.91 L471.0,188.77 L471.5,188.56 L472.0,188.30 L472.5,188.00 L473.0,187.71 L473.5,187.33 L474.0,186.99 L474.5,186.80 L475.0,186.54 L475.5,186.28 L476.0,185.80 L476.5,184.97 L477.0,184.11 L477.5,183.19 L478.0,182.40 L478.5,182.24 L479.0,182.54 L479.5,183.00 L480.0,183.49 L480.5,184.10 L481.0,184.91 L481.5,185.66 L482.0,186.19 L482.5,186.52 L483.0,186.66 L483.5,186.70 L484.0,186.69 L484.5,186.62 L485.0,186.62 L485.5,186.76 L486.0,186.70 L486.5,186.10 L487.0,185.55 L487.5,185.23 L488.0,184.61 L488.5,183.98 L489.0,183.55 L489.5,183.56 L490.0,184.15 L490.5,184.71 L491.0,185.14 L491.5,185.66 L492.0,186.15 L492.5,186.55 L493.0,186.73 L493.5,186.82 L494.0,187.01 L494.5,187.25 L495.0,187.40 L495.5,187.43 L496.0,187.59 L496.5,187.94 L497.0,188.20 L497.5,187.87 L498.0,187.40 L498.5,187.52 L499.0,187.79 L499.5,188.01 L500.0,188.20 L500.5,187.94 L501.0,187.62 L501.5,187.76 L502.0,187.94 L502.5,188.04 L503.0,188.01 L503.5,187.86 L504.0,187.78 L504.5,187.64 L505.0,187.70 L505.5,188.00 L506.0,188.06 L506.5,187.66 L507.0,187.44 L507.5,187.59 L508.0,187.71 L508.5,187.74 L509.0,187.52 L509.5,187.45 L510.0,187.64 L510.5,187.66 L511.0,187.49 L511.5,187.38 L512.0,187.46 L512.5,187.42 L513.0,187.28 L513.5,187.02 L514.0,186.86 L514.5,186.99 L515.0,187.21 L515.5,187.30 L516.0,187.20 L516.5,187.09 L517.0,187.23 L517.5,187.23 L518.0,186.91 L518.5,186.75 L519.0,186.64 L519.5,186.45 L520.0,186.39 L520.5,186.31 L521.0,185.95 L521.5,185.72 L522.0,185.68 L522.5,185.61 L523.0,185.67 L523.5,185.54 L524.0,185.21 L524.5,184.97 L525.0,184.65 L525.5,184.32 L526.0,184.15 L526.5,183.86 L527.0,183.13 L527.5,182.21 L528.0,181.51 L528.5,180.62 L529.0,179.23 L529.5,177.81 L530.0,176.40 L530.5,175.34 L531.0,175.53 L531.5,176.60 L532.0,177.67 L532.5,178.72 L533.0,179.81 L533.5,180.72 L534.0,181.21 L534.5,181.24 L535.0,181.29 L535.5,181.44 L536.0,181.47 L536.5,181.49 L537.0,181.49 L537.5,181.46 L538.0,181.60 L538.5,181.94 L539.0,182.36" fill="none" stroke="#000" stroke-width="1.5" stroke-linejoin="round"/>
<path d="M30.0,265.75 L30.5,265.75 L31.0,265.75 L31.5,265.74 L32.0,265.73 L32.5,265.73 L33.0,265.72 L33.5,265.72 L34.0,265.71 L34.5,265.71 L35.0,265.70 L35.5,265.70 L36.0,265.69 L36.5,265.69 L37.0,265.68 L37.5,265.68 L38.0,265.67 L38.5,265.67 L39.0,265.66 L39.5,265.66 L40.0,265.65 L40.5,265.65 L41.0,265.64 L41.5,265.64 L42.0,265.63 L42.5,265.63 L43.0,265.62 L43.5,265.62 L44.0,265.61 L44.5,265.60 L45.0,265.60 L45.5,265.59 L46.0,265.59 L46.5,265.58 L47.0,265.58 L47.5,265.57 L48.0,265.57 L48.5,265.56 L49.0,265.56 L49.5,265.55 L50.0,265.55 L50.5,265.54 L51.0,265.54 L51.5,265.53 L52.0,265.53 L52.5,265.52 L53.0,265.51 L53.5,265.51 L54.0,265.50 L54.5,265.50 L55.0,265.49 L55.5,265.49 L56.0,265.48 L56.5,265.48 L57.0,265.47 L57.5,265.47 L58.0,265.46 L58.5,265.46 L59.0,265.45 L59.5,265.45 L60.0,265.44 L60.5,265.43 L61.0,265.43 L61.5,265.42 L62.0,265.42 L62.5,265.41 L63.0,265.41 L63.5,265.40 L64.0,265.40 L64.5,265.39 L65.0,265.39 L65.5,265.38 L66.0,265.38 L66.5,265.37 L67.0,265.36 L67.5,265.36 L68.0,265.35 L68.5,265.35 L69.0,265.34 L69.5,265.34 L70.0,265.33 L70.5,265.33 L71.0,265.32 L71.5,265.31 L72.0,265.31 L72.5,265.30 L73.0,265.30 L73.5,265.29 L74.0,265.29 L74.5,265.28 L75.0,265.28 L75.5,265.27 L76.0,265.26 L76.5,265.26 L77.0,265.25 L77.5,265.25 L78.0,265.24 L78.5,265.24 L79.0,265.23 L79.5,265.23 L80.0,265.22 L80.5,265.21 L81.0,265.21 L81.5,265.20 L82.0,265.20 L82.5,265.19 L83.0,265.19 L83.5,265.18 L84.0,265.17 L84.5,265.17 L85.0,265.16 L85.5,265.16 L86.0,265.15 L86.5,265.14 L87.0,265.14 L87.5,265.13 L88.0,265.13 L88.5,265.12 L89.0,265.12 L89.5,265.11 L90.0,265.10 L90.5,265.10 L91.0,265.09 L91.5,265.09 L92.0,265.08 L92.5,265.07 L93.0,265.07 L93.5,265.06 L94.0,265.06 L94.5,265.05 L95.0,265.04 L95.5,265.04 L96.0,265.03 L96.5,265.02 L97.0,265.02 L97.5,265.01 L98.0,265.01 L98.5,265.00 L99.0,264.99 L99.5,264.99 L100.0,264.98 L100.5,264.97 L101.0,264.97 L101.5,264.96 L102.0,264.95 L102.5,264.95 L103.0,264.94 L103.5,264.93 L104.0,264.93 L104.5,264.92 L105.0,264.91 L105.5,264.91 L106.0,264.90 L106.5,264.89 L107.0,264.89 L107.5,264.88 L108.0,264.87 L108.5,264.87 L109.0,264.86 L109.5,264.85 L110.0,264.85 L110.5,264.84 L111.0,264.83 L111.5,264.82 L112.0,264.82 L112.5,264.81 L113.0,264.80 L113.5,264.80 L114.0,264.79 L114.5,264.78 L115.0,264.77 L115.5,264.76 L116.0,264.75 L116.5,264.73 L117.0,264.72 L117.5,264.71 L118.0,264.69 L118.5,264.68 L119.0,264.66 L119.5,264.65 L120.0,264.63 L120.5,264.62 L121.0,264.60 L121.5,264.59 L122.0,264.57 L122.5,264.55 L123.0,264.54 L123.5,264.52 L124.0,264.51 L124.5,264.49 L125.0,264.48 L125.5,264.46 L126.0,264.44 L126.5,264.43 L127.0,264.41 L127.5,264.39 L128.0,264.38 L128.5,264.36 L129.0,264.34 L129.5,264.32 L130.0,264.31 L130.5,264.29 L131.0,264.27 L131.5,264.25 L132.0,264.23 L132.5,264.21 L133.0,264.20 L133.5,264.18 L134.0,264.16 L134.5,264.14 L135.0,264.12 L135.5,264.09 L136.0,264.07 L136.5,264.05 L137.0,264.03 L137.5,264.01 L138.0,263.98 L138.5,263.96 L139.0,263.94 L139.5,263.91 L140.0,263.89 L140.5,263.86 L141.0,263.83 L141.5,263.81 L142.0,263.78 L142.5,263.75 L143.0,263.72 L143.5,263.69 L144.0,263.65 L144.5,263.62 L145.0,263.58 L145.5,263.55 L146.0,263.51 L146.5,263.47 L147.0,263.43 L147.5,263.38 L148.0,263.33 L148.5,263.28 L149.0,263.23 L149.5,263.17 L150.0,263.11 L150.5,263.04 L151.0,262.97 L151.5,262.89 L152.0,262.81 L152.5,262.71 L153.0,262.61 L153.5,262.49 L154.0,262.37 L154.5,262.22 L155.0,262.05 L155.5,261.86 L156.0,261.64 L156.5,261.38 L157.0,261.07 L157.5,260.70 L158.0,260.24 L158.5,259.66 L159.0,258.91 L159.5,257.91 L160.0,256.67 L160.5,255.56 L161.0,255.34 L161.5,256.15 L162.0,257.24 L162.5,258.12 L163.0,258.75 L163.5,259.17 L164.0,259.46 L164.5,259.64 L165.0,259.75 L165.5,259.79 L166.0,259.77 L166.5,259.71 L167.0,259.59 L167.5,259.43 L168.0,259.23 L168.5,258.98 L169.0,258.67 L169.5,258.31 L170.0,257.88 L170.5,257.38 L171.0,256.80 L171.5,256.12 L172.0,255.32 L172.5,254.39 L173.0,253.28 L173.5,251.98 L174.0,250.43 L174.5,248.57 L175.0,246.33 L175.5,243.60 L176.0,240.24 L176.5,236.00 L177.0,230.53 L177.5,223.29 L178.0,213.84 L178.5,203.27 L179.0,196.73 L179.5,200.00 L180.0,209.94 L180.5,220.10 L181.0,228.12 L181.5,234.18 L182.0,238.82 L182.5,242.48 L183.0,245.42 L183.5,247.83 L184.0,249.82 L184.5,251.49 L185.0,252.89 L185.5,254.07 L186.0,255.07 L186.5,255.92 L187.0,256.69 L187.5,257.35 L188.0,257.91 L188.5,258.39 L189.0,258.81 L189.5,259.18 L190.0,259.50 L190.5,259.76 L191.0,259.97 L191.5,260.19 L192.0,260.42 L192.5,260.61 L193.0,260.81 L193.5,261.04 L194.0,261.29 L194.5,261.54 L195.0,261.57 L195.5,261.54 L196.0,261.67 L196.5,261.74 L197.0,261.78 L197.5,261.89 L198.0,261.75 L198.5,261.67 L199.0,261.93 L199.5,262.15 L200.0,262.24 L200.5,262.13 L201.0,262.15 L201.5,262.33 L202.0,262.29 L202.5,262.41 L203.0,262.61 L203.5,262.53 L204.0,262.46 L204.5,262.55 L205.0,262.58 L205.5,262.52 L206.0,262.63 L206.5,262.88 L207.0,262.96 L207.5,262.67 L208.0,262.52 L208.5,262.66 L209.0,262.68 L209.5,262.70 L210.0,262.82 L210.5,262.84 L211.0,262.69 L211.5,262.47 L212.0,262.27 L212.5,262.53 L213.0,262.86 L213.5,262.71 L214.0,262.51 L214.5,262.57 L215.0,262.78 L215.5,262.75 L216.0,262.66 L216.5,262.81 L217.0,262.92 L217.5,262.86 L218.0,262.87 L218.5,263.02 L219.0,262.96 L219.5,262.75 L220.0,262.67 L220.5,262.76 L221.0,262.85 L221.5,262.86 L222.0,262.94 L222.5,263.01 L223.0,263.04 L223.5,262.95 L224.0,262.63 L224.5,262.44 L225.0,262.66 L225.5,262.84 L226.0,262.80 L226.5,262.72 L227.0,262.58 L227.5,262.46 L228.0,262.54 L228.5,262.73 L229.0,262.65 L229.5,262.38 L230.0,262.27 L230.5,262.47 L231.0,262.70 L231.5,262.55 L232.0,262.42 L232.5,262.62 L233.0,262.71 L233.5,262.58 L234.0,262.50 L234.5,262.44 L235.0,262.34 L235.5,262.15 L236.0,262.04 L236.5,262.09 L237.0,262.13 L237.5,261.91 L238.0,261.54 L238.5,261.56 L239.0,261.59 L239.5,261.33 L240.0,261.22 L240.5,261.13 L241.0,260.83 L241.5,260.43 L242.0,260.17 L242.5,259.96 L243.0,259.29 L243.5,257.68 L244.0,253.94 L244.5,253.22 L245.0,256.24 L245.5,256.68 L246.0,256.42 L246.5,255.99 L247.0,255.19 L247.5,254.26 L248.0,253.24 L248.5,251.77 L249.0,249.90 L249.5,247.60 L250.0,244.64 L250.5,240.84 L251.0,235.71 L251.5,229.57 L252.0,224.02 L252.5,222.23 L253.0,225.95 L253.5,232.33 L254.0,238.20 L254.5,242.66 L255.0,246.10 L255.5,248.74 L256.0,250.63 L256.5,252.20 L257.0,253.70 L257.5,255.06 L258.0,256.13 L258.5,256.86 L259.0,257.36 L259.5,257.89 L260.0,258.43 L260.5,258.84 L261.0,259.29 L261.5,259.58 L262.0,259.68 L262.5,259.91 L263.0,260.30 L263.5,260.82 L264.0,261.05 L264.5,260.86 L265.0,260.63 L265.5,260.59 L266.0,260.86 L266.5,261.02 L267.0,261.05 L267.5,261.13 L268.0,261.07 L268.5,261.16 L269.0,261.23 L269.5,261.23 L270.0,261.46 L270.5,261.46 L271.0,261.09 L271.5,261.03 L272.0,261.24 L272.5,261.15 L273.0,260.92 L273.5,260.88 L274.0,260.84 L274.5,260.75 L275.0,260.64 L275.5,260.45 L276.0,260.19 L276.5,259.62 L277.0,258.74 L277.5,257.79 L278.0,256.95 L278.5,256.62 L279.0,257.16 L279.5,258.23 L280.0,259.17 L280.5,259.80 L281.0,260.12 L281.5,260.33 L282.0,260.63 L282.5,260.85 L283.0,260.78 L283.5,260.71 L284.0,260.73 L284.5,260.71 L285.0,260.71 L285.5,260.71 L286.0,260.79 L286.5,260.80 L287.0,260.49 L287.5,260.22 L288.0,260.12 L288.5,259.89 L289.0,259.47 L289.5,259.16 L290.0,258.99 L290.5,258.67 L291.0,258.09 L291.5,257.33 L292.0,256.58 L292.5,255.88 L293.0,254.81 L293.5,253.09 L294.0,250.83 L294.5,247.77 L295.0,243.62 L295.5,238.98 L296.0,235.85 L296.5,236.65 L297.0,240.57 L297.5,245.03 L298.0,248.93 L298.5,251.66 L299.0,253.36 L299.5,254.70 L300.0,255.83 L300.5,256.55 L301.0,257.12 L301.5,257.76 L302.0,258.21 L302.5,258.55 L303.0,258.71 L303.5,258.76 L304.0,258.97 L304.5,259.11 L305.0,259.01 L305.5,258.96 L306.0,258.86 L306.5,258.83 L307.0,259.04 L307.5,258.97 L308.0,258.73 L308.5,258.46 L309.0,258.00 L309.5,257.74 L310.0,257.57 L310.5,256.79 L311.0,255.48 L311.5,254.39 L312.0,253.74 L312.5,252.74 L313.0,250.91 L313.5,248.51 L314.0,245.27 L314.5,240.53 L315.0,234.02 L315.5,225.97 L316.0,219.97 L316.5,221.68 L317.0,229.19 L317.5,236.73 L318.0,242.31 L318.5,246.37 L319.0,249.03 L319.5,250.32 L320.0,251.21 L320.5,252.21 L321.0,252.90 L321.5,253.05 L322.0,252.48 L322.5,251.13 L323.0,249.41 L323.5,247.78 L324.0,247.61 L324.5,249.65 L325.0,252.22 L325.5,254.29 L326.0,255.82 L326.5,256.89 L327.0,257.55 L327.5,257.99 L328.0,258.51 L328.5,258.98 L329.0,259.40 L329.5,259.71 L330.0,259.75 L330.5,259.76 L331.0,259.92 L331.5,260.20 L332.0,260.39 L332.5,260.49 L333.0,260.70 L333.5,260.76 L334.0,260.60 L334.5,260.57 L335.0,260.82 L335.5,260.86 L336.0,260.79 L336.5,261.12 L337.0,261.35 L337.5,261.22 L338.0,261.31 L338.5,261.55 L339.0,261.37 L339.5,261.04 L340.0,261.01 L340.5,261.07 L341.0,260.90 L341.5,260.80 L342.0,261.00 L342.5,261.08 L343.0,261.07 L343.5,261.15 L344.0,261.18 L344.5,261.03 L345.0,260.95 L345.5,261.15 L346.0,261.22 L346.5,261.13 L347.0,261.13 L347.5,260.98 L348.0,260.88 L348.5,260.89 L349.0,260.74 L349.5,260.63 L350.0,260.48 L350.5,260.22 L351.0,259.85 L351.5,259.63 L352.0,259.51 L352.5,259.12 L353.0,258.79 L353.5,258.89 L354.0,259.18 L354.5,259.34 L355.0,259.59 L355.5,259.90 L356.0,260.01 L356.5,260.13 L357.0,260.29 L357.5,260.37 L358.0,260.52 L358.5,260.76 L359.0,260.83 L359.5,260.71 L360.0,260.49 L360.5,260.23 L361.0,260.11 L361.5,260.04 L362.0,259.94 L362.5,260.09 L363.0,260.42 L363.5,260.54 L364.0,260.30 L364.5,260.01 L365.0,259.89 L365.5,259.83 L366.0,259.81 L366.5,259.75 L367.0,259.83 L367.5,259.90 L368.0,259.73 L368.5,259.49 L369.0,259.03 L369.5,258.70 L370.0,258.71 L370.5,258.44 L371.0,257.85 L371.5,257.28 L372.0,256.74 L372.5,256.35 L373.0,255.88 L373.5,255.01 L374.0,253.93 L374.5,252.98 L375.0,252.36 L375.5,251.95 L376.0,251.76 L376.5,251.91 L377.0,252.57 L377.5,253.65 L378.0,254.49 L378.5,255.21 L379.0,255.81 L379.5,256.18 L380.0,256.75 L380.5,257.33 L381.0,257.81 L381.5,258.20 L382.0,258.19 L382.5,258.08 L383.0,258.33 L383.5,258.65 L384.0,258.68 L384.5,258.52 L385.0,258.59 L385.5,258.92 L386.0,259.07 L386.5,258.89 L387.0,258.87 L387.5,258.91 L388.0,258.65 L388.5,258.83 L389.0,259.17 L389.5,258.99 L390.0,258.70 L390.5,258.63 L391.0,258.60 L391.5,258.40 L392.0,258.29 L392.5,258.15 L393.0,257.93 L393.5,257.77 L394.0,257.41 L394.5,257.15 L395.0,257.00 L395.5,256.76 L396.0,256.55 L396.5,256.21 L397.0,255.61 L397.5,254.99 L398.0,254.44 L398.5,253.92 L399.0,253.33 L399.5,252.50 L400.0,251.56 L400.5,250.42 L401.0,249.19 L401.5,247.86 L402.0,246.16 L402.5,244.40 L403.0,242.28 L403.5,239.44 L404.0,236.09 L404.5,232.10 L405.0,227.19 L405.5,221.17 L406.0,214.19 L406.5,207.39 L407.0,203.53 L407.5,204.94 L408.0,210.59 L408.5,217.70 L409.0,224.26 L409.5,229.62 L410.0,233.85 L410.5,237.35 L411.0,240.58 L411.5,243.29 L412.0,245.17 L412.5,246.79 L413.0,248.33 L413.5,249.40 L414.0,250.23 L414.5,251.05 L415.0,251.86 L415.5,252.81 L416.0,253.59 L416.5,253.82 L417.0,253.94 L417.5,254.26 L418.0,254.46 L418.5,254.55 L419.0,254.83 L419.5,255.02 L420.0,254.94 L420.5,254.65 L421.0,254.08 L421.5,253.72 L422.0,253.59 L422.5,252.88 L423.0,251.66 L423.5,250.45 L424.0,248.91 L424.5,246.81 L425.0,244.45 L425.5,242.86 L426.0,243.28 L426.5,245.31 L427.0,247.59 L427.5,249.37 L428.0,250.91 L428.5,252.38 L429.0,253.55 L429.5,254.58 L430.0,255.35 L430.5,255.71 L431.0,255.90 L431.5,256.13 L432.0,256.12 L432.5,255.77 L433.0,255.63 L433.5,255.98 L434.0,256.73 L434.5,257.45 L435.0,257.90 L435.5,258.26 L436.0,258.44 L436.5,258.55 L437.0,258.83 L437.5,259.10 L438.0,259.22 L438.5,259.30 L439.0,259.47 L439.5,259.85 L440.0,260.09 L440.5,260.08 L441.0,260.15 L441.5,260.27 L442.0,260.32 L442.5,260.05 L443.0,259.91 L443.5,260.15 L444.0,260.09 L444.5,259.89 L445.0,259.83 L445.5,259.83 L446.0,259.93 L446.5,260.11 L447.0,260.37 L447.5,260.27 L448.0,259.88 L448.5,259.80 L449.0,259.86 L449.5,259.86 L450.0,260.04 L450.5,260.13 L451.0,260.04 L451.5,260.09 L452.0,260.33 L452.5,260.54 L453.0,260.50 L453.5,260.34 L454.0,260.23 L454.5,260.12 L455.0,260.06 L455.5,260.05 L456.0,260.03 L456.5,259.86 L457.0,259.81 L457.5,260.00 L458.0,259.98 L458.5,259.77 L459.0,259.78 L459.5,259.93 L460.0,259.89 L460.5,259.77 L461.0,259.78 L461.5,259.89 L462.0,260.01 L462.5,259.84 L463.0,259.39 L463.5,259.25 L464.0,259.57 L464.5,259.78 L465.0,259.72 L465.5,259.60 L466.0,259.33 L466.5,259.19 L467.0,259.33 L467.5,259.37 L468.0,259.19 L468.5,258.96 L469.0,258.90 L469.5,258.91 L470.0,258.86 L470.5,258.64 L471.0,258.41 L471.5,258.41 L472.0,258.44 L472.5,258.16 L473.0,257.73 L473.5,257.39 L474.0,257.28 L474.5,257.09 L475.0,256.46 L475.5,256.00 L476.0,255.76 L476.5,255.16 L477.0,254.27 L477.5,253.48 L478.0,252.89 L478.5,252.55 L479.0,252.73 L479.5,253.34 L480.0,254.04 L480.5,254.60 L481.0,255.02 L481.5,255.39 L482.0,255.52 L482.5,255.69 L483.0,256.01 L483.5,256.13 L484.0,256.12 L484.5,256.14 L485.0,256.18 L485.5,255.87 L486.0,255.39 L486.5,255.17 L487.0,254.73 L487.5,253.96 L488.0,253.33 L488.5,252.74 L489.0,252.01 L489.5,251.67 L490.0,252.11 L490.5,252.92 L491.0,253.47 L491.5,254.05 L492.0,254.89 L492.5,255.72 L493.0,256.40 L493.5,256.60 L494.0,256.56 L494.5,256.78 L495.0,257.09 L495.5,257.18 L496.0,257.28 L496.5,257.48 L497.0,257.63 L497.5,257.71 L498.0,257.86 L498.5,258.11 L499.0,258.04 L499.5,257.92 L500.0,258.14 L500.5,258.19 L501.0,258.04 L501.5,257.91 L502.0,257.91 L502.5,257.97 L503.0,258.00 L503.5,258.08 L504.0,257.97 L504.5,257.76 L505.0,257.82 L505.5,257.99 L506.0,257.95 L506.5,257.78 L507.0,257.70 L507.5,257.62 L508.0,257.45 L508.5,257.54 L509.0,257.77 L509.5,257.70 L510.0,257.53 L510.5,257.55 L511.0,257.79 L511.5,257.83 L512.0,257.58 L512.5,257.40 L513.0,257.41 L513.5,257.58 L514.0,257.46 L514.5,257.23 L515.0,257.29 L515.5,257.26 L516.0,257.13 L516.5,256.98 L517.0,256.76 L517.5,256.71 L518.0,256.76 L518.5,256.58 L519.0,256.52 L519.5,256.63 L520.0,256.37 L520.5,256.02 L521.0,255.94 L521.5,256.01 L522.0,255.93 L522.5,255.70 L523.0,255.36 L523.5,254.90 L524.0,254.62 L524.5,254.42 L525.0,254.18 L525.5,253.69 L526.0,253.26 L526.5,252.98 L527.0,252.18 L527.5,251.26 L528.0,250.39 L528.5,249.09 L529.0,247.17 L529.5,244.96 L530.0,243.35 L530.5,242.44 L531.0,242.23 L531.5,242.97 L532.0,244.54 L532.5,246.41 L533.0,247.68 L533.5,248.36 L534.0,248.96 L534.5,249.30 L535.0,249.37 L535.5,249.48 L536.0,249.60 L536.5,249.70 L537.0,249.78 L537.5,249.80 L538.0,250.05 L538.5,250.55 L539.0,251.06" fill="none" stroke="#000" stroke-width="1.5" stroke-linejoin="round"/>
<rect x="25.7" y="5.5" width="519.7" height="357.4" fill="none" stroke="#151515" stroke-width="1.35"/>
<line x1="30.70" y1="362.9" x2="30.70" y2="369.6" stroke="#151515" stroke-width="1.35"/>
<text x="30.80" y="383.6" font-size="12.5" text-anchor="middle" class="k">10</text>
<line x1="73.03" y1="362.9" x2="73.03" y2="366.1" stroke="#151515" stroke-width="1.35"/>
<line x1="115.35" y1="362.9" x2="115.35" y2="369.6" stroke="#151515" stroke-width="1.35"/>
<text x="115.45" y="383.6" font-size="12.5" text-anchor="middle" class="k">20</text>
<line x1="157.67" y1="362.9" x2="157.67" y2="366.1" stroke="#151515" stroke-width="1.35"/>
<line x1="200.00" y1="362.9" x2="200.00" y2="369.6" stroke="#151515" stroke-width="1.35"/>
<text x="200.10" y="383.6" font-size="12.5" text-anchor="middle" class="k">30</text>
<line x1="242.32" y1="362.9" x2="242.32" y2="366.1" stroke="#151515" stroke-width="1.35"/>
<line x1="284.65" y1="362.9" x2="284.65" y2="369.6" stroke="#151515" stroke-width="1.35"/>
<text x="284.75" y="383.6" font-size="12.5" text-anchor="middle" class="k">40</text>
<line x1="326.97" y1="362.9" x2="326.97" y2="366.1" stroke="#151515" stroke-width="1.35"/>
<line x1="369.30" y1="362.9" x2="369.30" y2="369.6" stroke="#151515" stroke-width="1.35"/>
<text x="369.40" y="383.6" font-size="12.5" text-anchor="middle" class="k">50</text>
<line x1="411.62" y1="362.9" x2="411.62" y2="366.1" stroke="#151515" stroke-width="1.35"/>
<line x1="453.95" y1="362.9" x2="453.95" y2="369.6" stroke="#151515" stroke-width="1.35"/>
<text x="454.05" y="383.6" font-size="12.5" text-anchor="middle" class="k">60</text>
<line x1="496.27" y1="362.9" x2="496.27" y2="366.1" stroke="#151515" stroke-width="1.35"/>
<line x1="538.60" y1="362.9" x2="538.60" y2="369.6" stroke="#151515" stroke-width="1.35"/>
<text x="538.70" y="383.6" font-size="12.5" text-anchor="middle" class="k">70</text>
<text x="285.5" y="408.7" font-size="14.5" text-anchor="middle" class="k">2&#952; (deg)</text>
<text transform="translate(15.9,183.7) rotate(-90)" font-size="15" text-anchor="middle" class="k">Intensity (a.u.)</text>
<text x="28.6" y="122.0" font-size="14" class="k">FS3SD60</text>
<text x="28.7" y="190.4" font-size="14" class="k">FS3SD50</text>
<text x="28.6" y="260.9" font-size="14" class="k">FS3SD40</text>
<line x1="36.9" y1="299.1" x2="57" y2="299.1" stroke="#ff3838" stroke-width="2"/>
<line x1="36.9" y1="312.0" x2="57" y2="312.0" stroke="#3a58ff" stroke-width="2"/>
<text x="62.5" y="299.9" font-size="12" class="k">Anatase</text>
<text x="62.3" y="314.6" font-size="12" class="k">Rutile</text>
<text x="142.80" y="92.80" font-size="9.6" letter-spacing="0.2" fill="#ff2c2c" stroke="#ff2c2c" stroke-width="0.35">(101)</text>
<text x="165.00" y="58.90" font-size="9.6" letter-spacing="0.2" fill="#3030ff" stroke="#3030ff" stroke-width="0.35">(110)</text>
<text x="240.00" y="84.80" font-size="9.6" letter-spacing="0.2" fill="#3030ff" stroke="#3030ff" stroke-width="0.35">(101)</text>
<text x="258.00" y="112.50" font-size="9.6" letter-spacing="0.2" fill="#ff2c2c" stroke="#ff2c2c" stroke-width="0.35">(004)</text>
<text x="268.90" y="100.90" font-size="9.6" letter-spacing="0.2" fill="#3030ff" stroke="#3030ff" stroke-width="0.35">(200)</text>
<text x="284.00" y="89.80" font-size="9.6" letter-spacing="0.2" fill="#3030ff" stroke="#3030ff" stroke-width="0.35">(111)</text>
<text x="341.80" y="111.60" font-size="9.6" letter-spacing="0.2" fill="#ff2c2c" stroke="#ff2c2c" stroke-width="0.35">(200)</text>
<text x="394.90" y="70.90" font-size="9.6" letter-spacing="0.2" fill="#3030ff" stroke="#3030ff" stroke-width="0.35">(211)</text>
<text x="416.50" y="102.90" font-size="9.6" letter-spacing="0.2" fill="#3030ff" stroke="#3030ff" stroke-width="0.35">(220)</text>
<text x="466.00" y="90.90" font-size="9.6" letter-spacing="0.2" fill="#3030ff" stroke="#3030ff" stroke-width="0.35">(002)</text>
<text x="466.20" y="101.50" font-size="9.6" letter-spacing="0.2" fill="#ff2c2c" stroke="#ff2c2c" stroke-width="0.35">(204)</text>
<text x="482.50" y="110.90" font-size="9.6" letter-spacing="0.2" fill="#3030ff" stroke="#3030ff" stroke-width="0.35">(310)</text>
<text x="518.80" y="100.90" font-size="9.6" letter-spacing="0.2" fill="#3030ff" stroke="#3030ff" stroke-width="0.35">(112)</text>
<text x="355.9" y="92.2" font-size="10.5" class="k">substrate</text>
<text x="206.5" y="244.8" font-size="11" class="k">TiO<tspan font-size="6.5" dy="1.3">2</tspan><tspan dy="-1.3">-B</tspan><tspan dx="-0.8"> *</tspan></text>
</svg>
</body></html>
